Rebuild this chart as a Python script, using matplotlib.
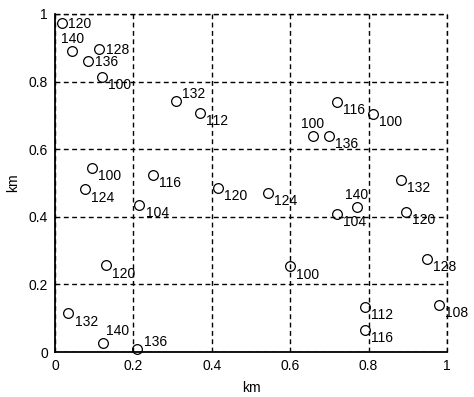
import matplotlib
matplotlib.use("Agg")
import matplotlib.pyplot as plt

xs = [0.018, 0.044, 0.113, 0.085, 0.119, 0.308, 0.370, 0.095, 0.077, 0.250,
      0.416, 0.215, 0.130, 0.034, 0.122, 0.210, 0.719, 0.811, 0.658, 0.699,
      0.883, 0.543, 0.770, 0.719, 0.895, 0.600, 0.949, 0.791, 0.980, 0.791]
ys = [0.973, 0.890, 0.896, 0.861, 0.814, 0.743, 0.708, 0.544, 0.481, 0.524,
      0.485, 0.435, 0.257, 0.115, 0.027, 0.009, 0.740, 0.704, 0.639, 0.639,
      0.509, 0.470, 0.429, 0.408, 0.414, 0.254, 0.275, 0.133, 0.139, 0.065]
labels = ["120", "140", "128", "136", "100", "132", "112", "100", "124", "116",
          "120", "104", "120", "132", "140", "136", "116", "100", "100", "136",
          "132", "124", "140", "104", "120", "100", "128", "112", "108", "116"]
place = ["r", "u", "r", "r", "lr", "ur", "lr", "lr", "lr", "lr",
         "lr", "lr", "lr", "lr", "ur2", "ur", "lr", "lr", "u", "lr",
         "lr", "lr", "u", "lr", "lr", "lr", "lr", "lr", "lr", "lr"]
ticks = [0, 0.2, 0.4, 0.6, 0.8, 1]
ticklabels = ["0", "0.2", "0.4", "0.6", "0.8", "1"]

offsets = {"r": (4.5, -1, "left"), "lr": (4.5, -6, "left"), "ur": (4.5, 5, "left"),
           "ur2": (2, 9, "left"), "u": (0, 9, "center")}
FS = 10
FAM = "Liberation Sans"
DASH = (0, (3.5, 2.5))

fig = plt.figure(figsize=(4.74, 3.97), dpi=100)
ax = fig.add_axes([0.116, 0.113, 0.827, 0.852])
ax.plot(xs, ys, "o", mfc="none", mec="black", ms=7, mew=0.9, clip_on=False, zorder=3)
for x, y, t, p in zip(xs, ys, labels, place):
    dx, dy, ha = offsets[p]
    ax.annotate(t, (x, y), xytext=(dx, dy), textcoords="offset points",
                ha=ha, va="center", fontsize=FS, family=FAM)
ax.set_xlim(0, 1)
ax.set_ylim(0, 1)
ax.set_xticks(ticks)
ax.set_xticklabels(ticklabels)
ax.set_yticks(ticks)
ax.set_yticklabels(ticklabels)
ax.tick_params(length=0, labelsize=FS, pad=5)
for lab in ax.get_xticklabels() + ax.get_yticklabels():
    lab.set_family(FAM)
ax.grid(True, color="black", linestyle=DASH, linewidth=1.0)
l1 = ax.axhline(1.0, color="black", linestyle=DASH, linewidth=1.0)
l2 = ax.axvline(1.0, color="black", linestyle=DASH, linewidth=1.0)
l1.set_clip_on(False)
l2.set_clip_on(False)
ax.spines["top"].set_visible(False)
ax.spines["right"].set_visible(False)
ax.spines["left"].set_linewidth(1.3)
ax.spines["bottom"].set_linewidth(1.3)
ax.set_xlabel("km", fontsize=FS, family=FAM, labelpad=6)
ax.set_ylabel("km", fontsize=FS, family=FAM, labelpad=6)
fig.savefig("out.png", dpi=100)
